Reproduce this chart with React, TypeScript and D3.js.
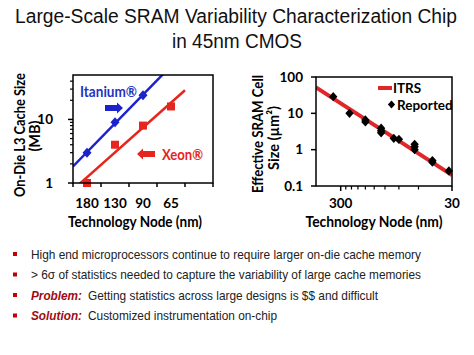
import React from 'react';
import * as d3 from 'd3';

// ---------- data ----------
const titleLines = ['Large-Scale SRAM Variability Characterization Chip', 'in 45nm CMOS'];

const leftCategories = ['180', '130', '90', '65', ''];
const itaniumNodes = ['180', '130', '90'];
const itaniumValues = [3, 9, 24];
const xeonNodes = ['180', '130', '90', '65'];
const xeonValues = [1, 4, 8, 16];
const leftYTicks = [1, 10];
const leftYMinor = [2, 3, 4, 5, 6, 7, 8, 9, 20, 30, 40];

const rightXTicks = [300, 30];
const rightXMinor = [270, 240, 210, 180, 150, 120, 90, 60];
const rightYTicks = [0.1, 1, 10, 100];
const itrsNodes = [500, 30];
const itrsValues = [52, 0.2];
const reportedNodes = [350, 250, 180, 180, 130, 130, 130, 100, 90, 65, 65, 65, 45, 45, 32];
const reportedValues = [28.7, 10, 6.6, 5.8, 3.9, 3.3, 2.9, 2.05, 1.93, 1.4, 1.2, 1.0, 0.5, 0.45, 0.26];

const bulletPlain = [
  'High end microprocessors continue to require larger on-die cache memory',
  '> 6\u03c3 of statistics needed to capture the variability of large cache memories',
];
const bulletLabeled = [
  { label: 'Problem:', text: 'Getting statistics across large designs is $$ and difficult' },
  { label: 'Solution:', text: 'Customized instrumentation on-chip' },
];

// ---------- styles ----------
const RED = '#e8241e';
const BLUE = '#1c22cc';
const CHART_FONT = 'Lato, "Open Sans", sans-serif';
const TEXT_FONT = '"Liberation Sans", Arial, sans-serif';

function logFit(xs: number[], ys: number[]) {
  const ly = ys.map((v) => Math.log10(v));
  const mx = d3.mean(xs) as number;
  const my = d3.mean(ly) as number;
  let num = 0;
  let den = 0;
  xs.forEach((x, i) => {
    num += (x - mx) * (ly[i] - my);
    den += (x - mx) * (x - mx);
  });
  const slope = num / den;
  return (x: number) => Math.pow(10, my + slope * (x - mx));
}

const diamondPath = (hw: number, hh: number) => `M0,${-hh}L${hw},0L0,${hh}L${-hw},0Z`;

function LeftChart() {
  const L = 73, R = 213, T = 75, B = 183;
  const x = d3.scaleBand<string>().domain(leftCategories).range([L, R]).padding(0);
  const bw = x.bandwidth();
  const y = d3.scaleLog().domain([1, 50]).range([B, T]);
  const cx = (c: string) => (x(c) as number) + bw / 2;
  const idxX = (i: number) => L + (i - 0.5) * bw;

  const itIdx = itaniumNodes.map((n) => leftCategories.indexOf(n) + 1);
  const xeIdx = xeonNodes.map((n) => leftCategories.indexOf(n) + 1);
  const itFit = logFit(itIdx, itaniumValues);
  const xeFit = logFit(xeIdx, xeonValues);
  const line = d3.line<number>().x((i) => idxX(i)).y((i) => y(itFit(i)));
  const lineX = d3.line<number>().x((i) => idxX(i)).y((i) => y(xeFit(i)));
  const span = [0.5, leftCategories.length - 0.5];

  const boundaries = d3.range(leftCategories.length + 1).map((i) => L + i * bw);
  const diamond = diamondPath(4.5, 5);

  return (
    <g>
      <defs>
        <clipPath id="clipL">
          <rect x={L} y={T} width={R - L} height={B - T} />
        </clipPath>
      </defs>
      <g clipPath="url(#clipL)">
        <path d={line(span) as string} stroke={BLUE} strokeWidth={2.5} fill="none" />
        <path d={lineX(span) as string} stroke={RED} strokeWidth={2.5} fill="none" />
      </g>
      {itaniumNodes.map((n, i) => (
        <path key={'it' + i} d={diamond} transform={`translate(${cx(n)},${y(itaniumValues[i])})`} fill={BLUE} />
      ))}
      {xeonNodes.map((n, i) => (
        <rect key={'xe' + i} x={cx(n) - 4} y={y(xeonValues[i]) - 4} width={8} height={8} fill={RED} />
      ))}
      <rect x={L} y={T} width={R - L} height={B - T} fill="none" stroke="#000" strokeWidth={1.5} />
      {leftYTicks.map((t) => (
        <g key={'yt' + t}>
          <line x1={L - 5} x2={L} y1={y(t)} y2={y(t)} stroke="#000" strokeWidth={1.5} />
          <text x={53} y={y(t) + 4.5} textAnchor="end" fontSize={13.5} fontWeight="bold" fontFamily={CHART_FONT}>{t}</text>
        </g>
      ))}
      {leftYMinor.map((t) => (
        <line key={'ym' + t} x1={L - 3} x2={L} y1={y(t)} y2={y(t)} stroke="#000" strokeWidth={1.2} />
      ))}
      {boundaries.map((bx, i) => (
        <line key={'xb' + i} x1={bx} x2={bx} y1={B} y2={B + 4} stroke="#000" strokeWidth={1.5} />
      ))}
      {leftCategories.map((c) => (
        <text key={'xl' + c} x={cx(c)} y={207.5} textAnchor="middle" fontSize={13.5} fontWeight="bold" fontFamily={CHART_FONT}>{c}</text>
      ))}
      <text x={135} y={226.5} textAnchor="middle" fontSize={14.5} fontWeight="bold" fontFamily={CHART_FONT} textLength={134} lengthAdjust="spacingAndGlyphs">Technology Node (nm)</text>
      <text transform="translate(25,135) rotate(-90)" textAnchor="middle" fontSize={14.5} fontWeight="bold" fontFamily={CHART_FONT} textLength={124} lengthAdjust="spacingAndGlyphs">On-Die L3 Cache Size</text>
      <text transform="translate(39.5,136) rotate(-90)" textAnchor="middle" fontSize={14.5} fontWeight="bold" fontFamily={CHART_FONT}>(MB)</text>
      {/* annotations */}
      <text x={80} y={97} fontSize={14.5} fontWeight="bold" fill="#1f33c0" fontFamily={CHART_FONT} textLength={57} lengthAdjust="spacingAndGlyphs">Itanium®</text>
      <path d="M105,105 L117,105 L117,102.5 L123,108 L117,113.5 L117,111 L105,111 Z" fill={BLUE} />
      <text x={162} y={160} fontSize={14.5} fontWeight="bold" fill={RED} fontFamily={CHART_FONT} textLength={41} lengthAdjust="spacingAndGlyphs">Xeon®</text>
      <path d="M155,151 L143,151 L143,148.5 L137,154 L143,159.5 L143,157 L155,157 Z" fill={RED} />
    </g>
  );
}

function RightChart() {
  const L = 316, R = 452, T = 77, B = 186;
  const x = d3.scaleLog().domain([500, 30]).range([L, R]);
  const y = d3.scaleLog().domain([0.1, 100]).range([B, T]);
  const line = d3.line<number>().x((d) => x(d)).y((_, i) => y(itrsValues[i]));
  const diamond = diamondPath(4.2, 4.6);
  const legDiamond = diamondPath(3.6, 4);
  return (
    <g>
      <defs>
        <clipPath id="clipR">
          <rect x={L} y={T} width={R - L} height={B - T} />
        </clipPath>
      </defs>
      <g clipPath="url(#clipR)">
        <path d={line(itrsNodes) as string} stroke="#e0262a" strokeWidth={4} fill="none" />
      </g>
      {reportedNodes.map((n, i) => (
        <path key={'rp' + i} d={diamond} transform={`translate(${x(n)},${y(reportedValues[i])})`} fill="#000" />
      ))}
      <rect x={L} y={T} width={R - L} height={B - T} fill="none" stroke="#000" strokeWidth={1.5} />
      {rightYTicks.map((t) => (
        <g key={'ry' + t}>
          <line x1={L - 5} x2={L} y1={y(t)} y2={y(t)} stroke="#000" strokeWidth={1.5} />
          <text x={303} y={y(t) + 4.5} textAnchor="end" fontSize={13.5} fontWeight="bold" fontFamily={CHART_FONT}>{t}</text>
        </g>
      ))}
      {rightXTicks.map((t) => (
        <g key={'rx' + t}>
          <line x1={x(t)} x2={x(t)} y1={B} y2={B + 5} stroke="#000" strokeWidth={1.5} />
          <text x={x(t)} y={207.5} textAnchor="middle" fontSize={13.5} fontWeight="bold" fontFamily={CHART_FONT}>{t}</text>
        </g>
      ))}
      {rightXMinor.map((t) => (
        <line key={'rm' + t} x1={x(t)} x2={x(t)} y1={B} y2={B + 3.5} stroke="#000" strokeWidth={1.2} />
      ))}
      <text x={374} y={226.5} textAnchor="middle" fontSize={14.5} fontWeight="bold" fontFamily={CHART_FONT} textLength={137} lengthAdjust="spacingAndGlyphs">Technology Node (nm)</text>
      <text transform="translate(263,134) rotate(-90)" textAnchor="middle" fontSize={14.5} fontWeight="bold" fontFamily={CHART_FONT} textLength={118} lengthAdjust="spacingAndGlyphs">Effective SRAM Cell</text>
      <text transform="translate(278.5,138) rotate(-90)" textAnchor="middle" fontSize={14.5} fontWeight="bold" fontFamily={CHART_FONT}>Size (µm²)</text>
      {/* legend */}
      <line x1={378} x2={392} y1={88} y2={88} stroke="#e0262a" strokeWidth={4} />
      <text x={393} y={92.5} fontSize={13.5} fontWeight="bold" fontFamily={CHART_FONT}>ITRS</text>
      <path d={legDiamond} transform="translate(391.5,104.5)" fill="#000" />
      <text x={397} y={109.5} fontSize={13.5} fontWeight="bold" fontFamily={CHART_FONT}>Reported</text>
    </g>
  );
}

export default function App() {
  const bulletY = [258.5, 279, 299.5, 320];
  return (
    <svg width={474} height={355} style={{ position: 'absolute', left: 0, top: 0, background: '#fff' }}>
      <rect width={474} height={355} fill="#fff" />
      <text x={236} y={23} textAnchor="middle" fontSize={20} fontFamily={TEXT_FONT} fill="#111" textLength={442} lengthAdjust="spacingAndGlyphs">{titleLines[0]}</text>
      <text x={237} y={48} textAnchor="middle" fontSize={20} fontFamily={TEXT_FONT} fill="#111" textLength={130} lengthAdjust="spacingAndGlyphs">{titleLines[1]}</text>
      <LeftChart />
      <RightChart />
      {bulletY.map((by, i) => (
        <rect key={'b' + i} x={13} y={by - 6.5} width={4} height={4} fill="#c00000" />
      ))}
      {bulletPlain.map((t, i) => (
        <text key={'bp' + i} x={31} y={bulletY[i]} fontSize={13} fontFamily={TEXT_FONT} fill="#222" textLength={390} lengthAdjust="spacingAndGlyphs">{t}</text>
      ))}
      {bulletLabeled.map((b, i) => (
        <g key={'bl' + i}>
          <text x={31} y={bulletY[i + 2]} fontSize={13} fontFamily={TEXT_FONT} fontWeight="bold" fontStyle="italic" fill="#9e0b12" textLength={51} lengthAdjust="spacingAndGlyphs">{b.label}</text>
          <text x={88} y={bulletY[i + 2]} fontSize={13} fontFamily={TEXT_FONT} fill="#222" textLength={i === 0 ? 290 : 189} lengthAdjust="spacingAndGlyphs">{b.text}</text>
        </g>
      ))}
    </svg>
  );
}
